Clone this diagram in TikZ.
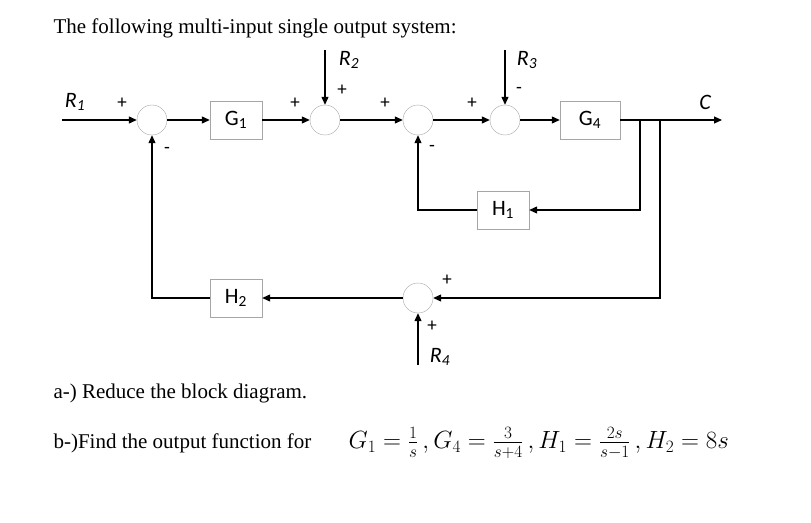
\documentclass[tikz,border=0pt]{standalone}
\usepackage{fontspec}
\setmainfont{Liberation Serif}
\newfontfamily\calfont{Carlito}
\usetikzlibrary{arrows.meta}
\begin{document}
\begin{tikzpicture}[x=1pt,y=-1pt,
  blk/.style={draw=gray!70,minimum width=52pt,minimum height=38pt,inner sep=0pt,font=\calfont\fontsize{22}{22}\selectfont},
  sum/.style={circle,draw=gray!70,minimum size=30pt,inner sep=0pt},
  ln/.style={line width=1.1pt},
  ar/.style={ln,-{Triangle[length=8pt,width=7pt]}},
  lab/.style={font=\calfont\fontsize{22}{22}\selectfont\itshape},
  sg/.style={font=\calfont\fontsize{19}{19}\selectfont}]
\useasboundingbox (0,0) rectangle (811,522);
\node[anchor=west,font=\fontsize{21}{21}\selectfont] (title) at (50,28) {The following multi-input single output system:};
\coordinate (r1) at (62,120);
\node[sum] (s1) at (152,120) {};
\node[blk] (g1) at (236,120) {G\textsubscript{1}};
\node[sum] (s2) at (325,120) {};
\node[sum] (s3) at (418,120) {};
\node[sum] (s4) at (505,120) {};
\node[blk,minimum width=60pt] (g4) at (590,120) {G\textsubscript{4}};
\coordinate (b1) at (640,120);
\coordinate (b2) at (660,120);
\coordinate (c) at (722,120);
\node[blk] (h1) at (503,210) {H\textsubscript{1}};
\node[blk] (h2) at (236,298) {H\textsubscript{2}};
\node[sum] (s5) at (418,298) {};
\coordinate (r2) at (325,50);
\coordinate (r3) at (505,50);
\coordinate (r4) at (418,365);
\draw[ar] (r1) -- (s1);
\draw[ar] (s1) -- (g1);
\draw[ar] (g1) -- (s2);
\draw[ar] (s2) -- (s3);
\draw[ar] (s3) -- (s4);
\draw[ar] (s4) -- (g4);
\draw[ar] (g4) -- (c);
\draw[ar] (r2) -- (s2);
\draw[ar] (r3) -- (s4);
\draw[ar] (b1) |- (h1);
\draw[ar] (h1) -| (s3);
\draw[ar] (b2) |- (s5);
\draw[ar] (s5) -- (h2);
\draw[ar] (h2) -| (s1);
\draw[ar] (r4) -- (s5);
\node[lab] (lr1) at (75,102) {R\textsubscript{1}};
\node[lab] (lr2) at (349,60) {R\textsubscript{2}};
\node[lab] (lr3) at (527,60) {R\textsubscript{3}};
\node[lab] (lr4) at (440,357) {R\textsubscript{4}};
\node[lab] (lc) at (705,102) {C};
\node[sg] at (122,103) {+};
\node[sg] at (167,150) {-};
\node[sg] at (295,103) {+};
\node[sg] at (342,90) {+};
\node[sg] at (385,103) {+};
\node[sg] at (432,148) {-};
\node[sg] at (472,103) {+};
\node[sg] at (519,90) {-};
\node[sg] at (447,280) {+};
\node[sg] at (432,326) {+};
\node[anchor=west,font=\fontsize{21}{21}\selectfont] (qa) at (50,393) {a-) Reduce the block diagram.};
\node[anchor=west,font=\fontsize{21}{21}\selectfont] (qb) at (50,443) {b-)Find the output function for};
\node[anchor=west,font=\fontsize{24}{24}\selectfont] (eq) at (345,443) {$G_1=\frac{1}{s}\,,G_4=\frac{3}{s+4}\,,H_1=\frac{2s}{s-1}\,,H_2=8s$};
\end{tikzpicture}
\end{document}
